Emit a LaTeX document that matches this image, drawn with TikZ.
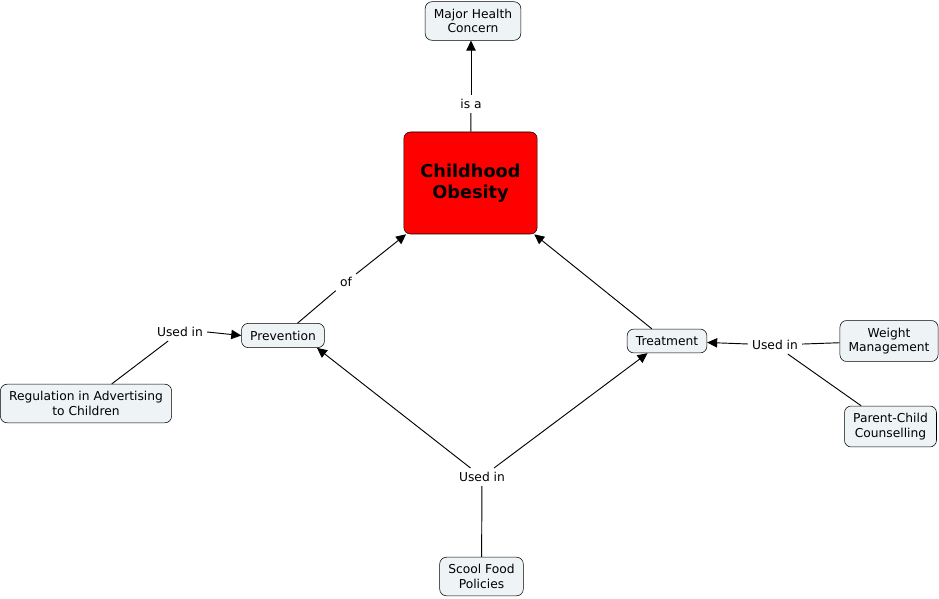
\documentclass[tikz,border=0pt]{standalone}
\usepackage{fontspec}
\setmainfont{DejaVu Sans}
\usetikzlibrary{arrows.meta,positioning}
\definecolor{conceptfill}{RGB}{238,243,246}
\tikzset{
	concept/.style={rectangle, draw=black, rounded corners=5pt, fill=conceptfill,
		align=center, font=\fontsize{9.2}{10.8}\selectfont, inner xsep=6.5pt, inner ysep=5.5pt},
	keyconcept/.style={rectangle, draw=black, rounded corners=5pt, fill=red,
		align=center, font=\fontsize{13.3}{16}\selectfont\bfseries,
		minimum width=100pt, minimum height=76.5pt},
	linkword/.style={font=\fontsize{9.2}{11}\selectfont, inner sep=3pt, fill=white},
	link/.style={draw=black, line width=0.7pt},
	linkarr/.style={link, -{Triangle[length=7.5pt,width=7pt]}}
}
\begin{document}
\begin{tikzpicture}[x=0.75pt, y=-0.75pt]
	\useasboundingbox (0,0) rectangle (939,599);
	% concepts
	\node[keyconcept] (obesity) at (470.5,183) {Childhood\\Obesity};
	\node[concept] (concern) at (473,21) {Major Health\\Concern};
	\node[concept] (prev) at (283,335.5) {Prevention};
	\node[concept] (treat) at (667,341) {Treatment};
	\node[concept] (advert) at (86,403.5) {Regulation in Advertising\\to Children};
	\node[concept] (weight) at (889,341) {Weight\\Management};
	\node[concept] (counsel) at (890.5,426.5) {Parent-Child\\Counselling};
	\node[concept] (school) at (481.5,576.5) {Scool Food\\Policies};
	% linking words
	\node[linkword] (isa) at (471,104) {is a};
	\node[linkword] (of) at (346,282) {of};
	\node[linkword] (usedL) at (180,332) {Used in};
	\node[linkword] (usedR) at (775,345) {Used in};
	\node[linkword] (usedB) at (482,477) {Used in};
	% connectors
	\draw[link] (obesity) -- (isa);
	\draw[linkarr] (isa) -- (isa |- concern.south);
	\draw[link] (prev) -- (of);
	\draw[linkarr] (of) -- (obesity);
	\draw[linkarr] (treat) -- (obesity);
	\draw[link] (advert) -- (usedL);
	\draw[linkarr] (usedL.east) -- (prev.west);
	\draw[link] (weight) -- (usedR);
	\draw[link] (counsel) -- (usedR);
	\draw[linkarr] (usedR) -- (treat);
	\draw[link] (school) -- (usedB);
	\draw[linkarr] (usedB) -- (prev.-20);
	\draw[linkarr] (usedB) -- (treat.212);
\end{tikzpicture}
\end{document}
